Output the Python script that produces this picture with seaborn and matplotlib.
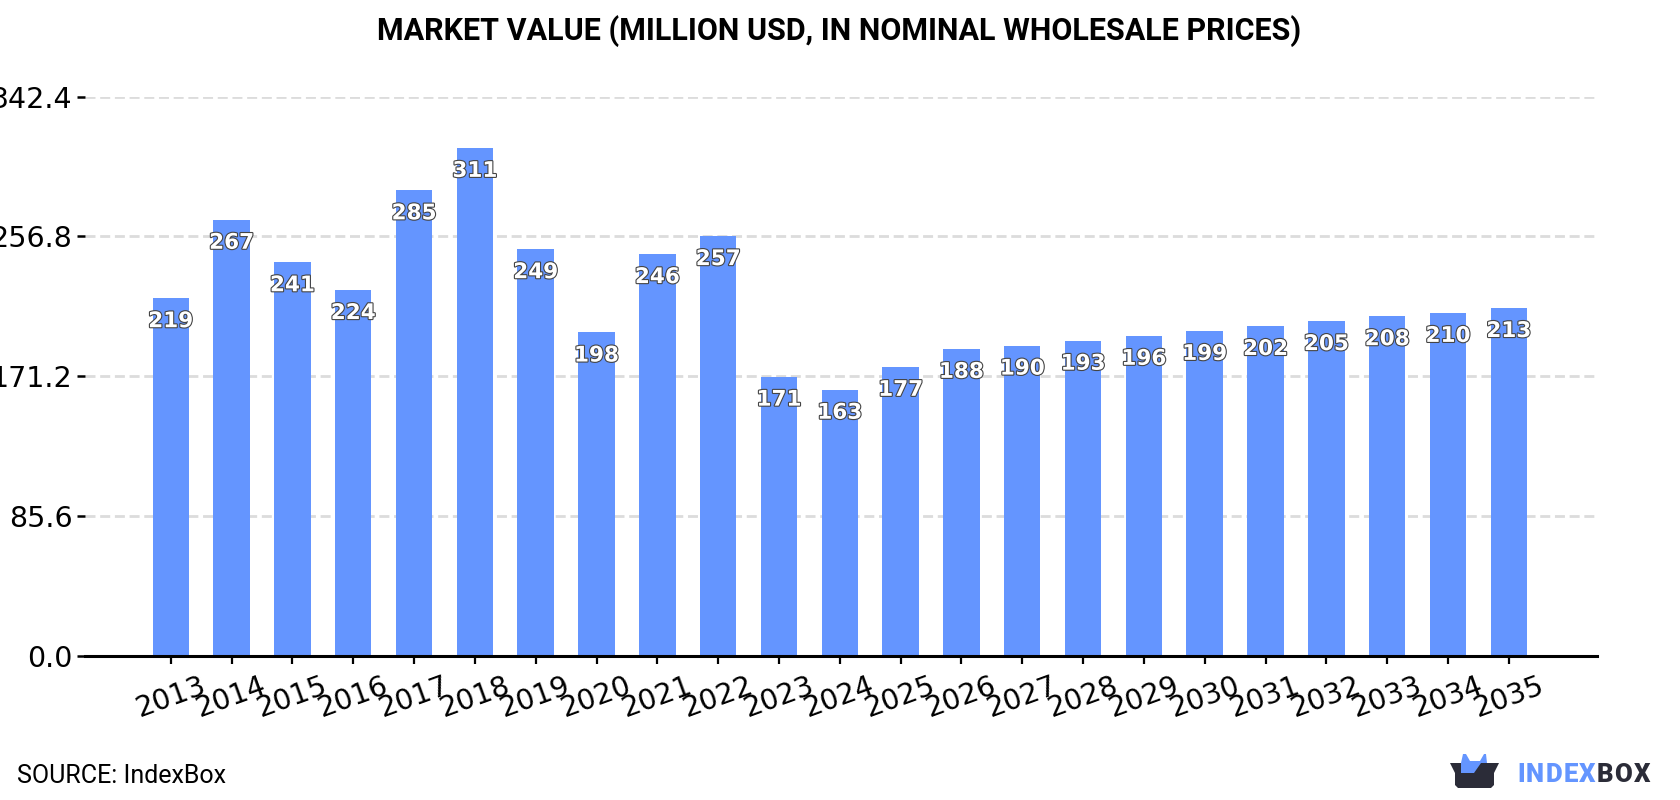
import matplotlib
matplotlib.use("Agg")
import matplotlib.pyplot as plt
import matplotlib.patheffects as pe
from matplotlib.patches import Polygon
import pandas as pd
import seaborn as sns

years = list(range(2013, 2036))
values = [219, 267, 241, 224, 285, 311, 249, 198, 246, 257, 171, 163, 177,
          188, 190, 193, 196, 199, 202, 205, 208, 210, 213]
y_ticks = [0.0, 85.6, 171.2, 256.8, 342.4]
title = "MARKET VALUE (MILLION USD, IN NOMINAL WHOLESALE PRICES)"
source = "SOURCE: IndexBox"

BLUE = "#6495FF"
DARK = "#2B2C38"

sns.set_theme(style="white")
plt.rcParams["font.family"] = "DejaVu Sans"

W, H = 1680, 800
fig = plt.figure(figsize=(W / 100, H / 100), dpi=100, facecolor="white")
ax = fig.add_axes([85 / W, 1 - 656 / H, (1597 - 85) / W, (656 - 96.5) / H])

df = pd.DataFrame({"year": years, "value": values})
sns.barplot(data=df, x="year", y="value", color=BLUE, saturation=1, width=0.6,
            linewidth=0, ax=ax, zorder=3)

ax.set_xlim(-1.41, 23.45)
ax.set_ylim(0, 342.4)
ax.set_xlabel("")
ax.set_ylabel("")
ax.set_yticks(y_ticks)
ax.set_yticklabels([f"{t:.1f}" for t in y_ticks])
ax.yaxis.grid(True, color="#DCDCDC", linewidth=2, linestyle=(0, (3.6, 1.69)), zorder=0)
ax.xaxis.grid(False)
for side in ("top", "right", "left"):
    ax.spines[side].set_visible(False)
ax.spines["bottom"].set_color("black")
ax.spines["bottom"].set_linewidth(2.2)
ax.spines["bottom"].set_zorder(4)
ax.tick_params(axis="y", left=True, length=6, width=1.8, color="black",
               labelsize=20.5, pad=3, labelcolor="black")
ax.tick_params(axis="x", bottom=True, length=6, width=1.6, color="black",
               labelsize=20.5, pad=5, labelcolor="black")
for lab in ax.get_xticklabels():
    lab.set_rotation(20)
    lab.set_ha("center")

# Value labels sit just inside the top of each bar, white with a grey outline
for i, v in enumerate(values):
    ax.annotate(str(v), (i, v), xytext=(0, -16.6), textcoords="offset points",
                ha="center", va="center", fontsize=15.5, fontweight="bold",
                color="white", zorder=5,
                path_effects=[pe.withStroke(linewidth=1.6, foreground="#444444")])

fig.text(0.5 - 1 / W, 1 - 31 / H, title, ha="center", va="center",
         family="Roboto", fontweight="bold", fontsize=22, color="black")
fig.text(17 / W, 1 - 776 / H, source, ha="left", va="center",
         family="Roboto", fontsize=18, color="black")

# Brand mark: open box with a blue cat-eared shape, then the wordmark
def logo_poly(points, color):
    fig.add_artist(Polygon([(x / W, 1 - y / H) for x, y in points], closed=True,
                           transform=fig.transFigure, facecolor=color,
                           edgecolor="none"))

logo_poly([(1461, 763), (1463, 754), (1466, 754), (1470, 761), (1480, 761),
           (1484, 754), (1486, 754), (1487, 763), (1474, 775), (1461, 773)], BLUE)
logo_poly([(1450, 763), (1461, 763), (1461, 773), (1474, 773), (1481, 763),
           (1499, 763), (1494, 773), (1494, 785), (1491, 788), (1458, 788),
           (1455, 785), (1455, 773)], DARK)

# The wordmark is set letter by letter to get its wide tracking
fig.canvas.draw()
cursor = 1517.0
for letter, color in zip("INDEXBOX", [BLUE] * 5 + [DARK] * 3):
    glyph = fig.text(cursor / W, 1 - 774.5 / H, letter, ha="left", va="center",
                     family="Roboto", fontweight="black", fontsize=18.5, color=color)
    cursor = glyph.get_window_extent().x1 + 1.3

fig.savefig("out.png", dpi=100, facecolor="white")
